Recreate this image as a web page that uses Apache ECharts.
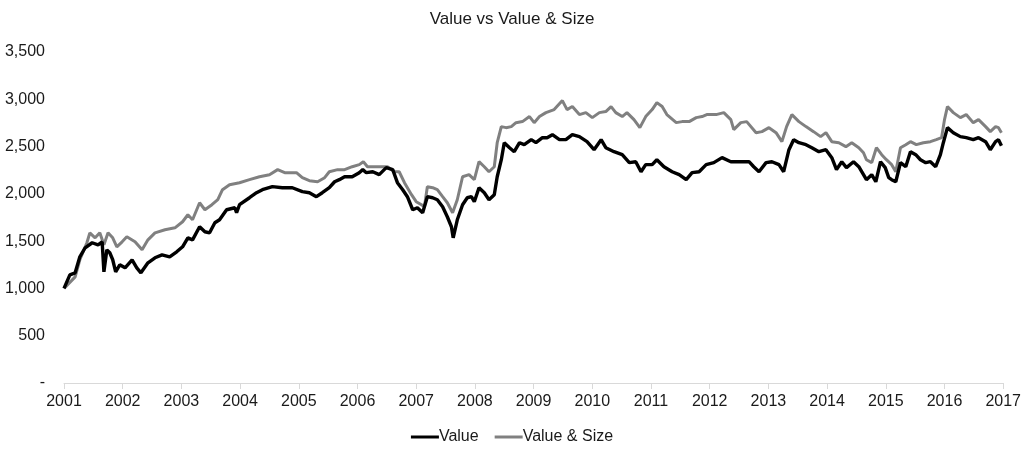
<!DOCTYPE html>
<html>
<head>
<meta charset="utf-8">
<script src="https://cdn.jsdelivr.net/npm/echarts@6/dist/echarts.min.js"></script>
<style>html,body{margin:0;padding:0;background:#fff}#c{width:1024px;height:456px}</style>
</head>
<body>
<div id="c"></div>
<script>
const titleText = "Value vs Value & Size";
const seriesNames = ["Value", "Value & Size"];
const yTicks = [0, 500, 1000, 1500, 2000, 2500, 3000, 3500];
const xYears = [2001, 2017];

// Time in decimal years
const valueDates = [2001.00,2001.10,2001.19,2001.27,2001.36,2001.48,2001.58,2001.65,2001.68,2001.73,2001.78,2001.83,2001.88,2001.95,2002.04,2002.16,2002.24,2002.31,2002.43,2002.55,2002.67,2002.80,2002.92,2003.02,2003.11,2003.19,2003.31,2003.40,2003.48,2003.57,2003.65,2003.77,2003.91,2003.94,2003.99,2004.16,2004.28,2004.38,2004.55,2004.72,2004.89,2005.06,2005.18,2005.30,2005.40,2005.52,2005.61,2005.69,2005.78,2005.91,2006.03,2006.09,2006.15,2006.26,2006.37,2006.49,2006.60,2006.68,2006.77,2006.85,2006.94,2007.02,2007.11,2007.19,2007.28,2007.36,2007.45,2007.53,2007.60,2007.63,2007.70,2007.79,2007.87,2007.94,2007.99,2008.07,2008.16,2008.24,2008.33,2008.38,2008.45,2008.50,2008.59,2008.67,2008.76,2008.84,2008.96,2009.04,2009.15,2009.23,2009.32,2009.44,2009.55,2009.66,2009.78,2009.91,2010.03,2010.15,2010.23,2010.37,2010.51,2010.63,2010.74,2010.83,2010.91,2011.02,2011.10,2011.22,2011.36,2011.48,2011.60,2011.70,2011.82,2011.94,2012.07,2012.21,2012.36,2012.50,2012.67,2012.75,2012.84,2012.96,2013.06,2013.18,2013.26,2013.35,2013.43,2013.52,2013.64,2013.74,2013.86,2013.98,2014.08,2014.16,2014.25,2014.33,2014.45,2014.54,2014.59,2014.67,2014.76,2014.83,2014.91,2014.99,2015.05,2015.10,2015.17,2015.25,2015.34,2015.42,2015.51,2015.59,2015.68,2015.76,2015.85,2015.93,2015.98,2016.05,2016.15,2016.27,2016.37,2016.49,2016.58,2016.70,2016.78,2016.87,2016.92,2016.97];
const valueLevels = [1000,1144,1165,1334,1430,1483,1461,1493,1175,1408,1377,1303,1175,1250,1218,1303,1218,1165,1271,1324,1355,1334,1387,1440,1535,1514,1652,1599,1588,1694,1726,1832,1853,1800,1885,1959,2012,2044,2076,2065,2065,2023,2012,1970,2012,2065,2128,2150,2181,2181,2224,2256,2224,2234,2203,2277,2256,2118,2044,1970,1832,1853,1800,1970,1959,1938,1864,1758,1652,1535,1726,1885,1959,1970,1917,2065,2012,1938,1991,2181,2361,2541,2488,2446,2541,2520,2573,2541,2594,2594,2626,2573,2573,2626,2605,2552,2467,2573,2488,2446,2414,2330,2340,2234,2309,2309,2361,2287,2234,2203,2150,2224,2234,2309,2330,2383,2340,2340,2340,2287,2234,2330,2340,2309,2234,2467,2573,2541,2520,2488,2446,2467,2383,2256,2340,2277,2340,2287,2234,2150,2203,2128,2340,2277,2171,2150,2128,2330,2287,2446,2414,2361,2330,2340,2287,2414,2541,2700,2647,2605,2594,2573,2594,2552,2467,2552,2573,2509];

const sizeDates = [2001.00,2001.19,2001.27,2001.39,2001.44,2001.53,2001.61,2001.68,2001.75,2001.83,2001.90,2001.99,2002.07,2002.21,2002.33,2002.43,2002.55,2002.72,2002.89,2003.02,2003.11,2003.19,2003.31,2003.40,2003.52,2003.62,2003.70,2003.82,2003.99,2004.16,2004.33,2004.50,2004.64,2004.76,2004.96,2005.06,2005.18,2005.32,2005.44,2005.52,2005.66,2005.78,2005.91,2006.03,2006.10,2006.17,2006.32,2006.51,2006.63,2006.71,2006.80,2006.92,2007.00,2007.09,2007.14,2007.19,2007.28,2007.36,2007.45,2007.53,2007.62,2007.70,2007.79,2007.90,2007.99,2008.07,2008.16,2008.24,2008.33,2008.38,2008.45,2008.53,2008.62,2008.70,2008.81,2008.93,2009.01,2009.10,2009.21,2009.35,2009.49,2009.57,2009.66,2009.78,2009.89,2010.00,2010.12,2010.23,2010.32,2010.40,2010.51,2010.59,2010.71,2010.81,2010.91,2011.02,2011.10,2011.19,2011.27,2011.43,2011.53,2011.65,2011.77,2011.87,2011.95,2012.11,2012.24,2012.36,2012.41,2012.53,2012.63,2012.79,2012.89,2013.01,2013.13,2013.23,2013.31,2013.40,2013.52,2013.64,2013.77,2013.89,2013.98,2014.08,2014.20,2014.32,2014.42,2014.54,2014.62,2014.67,2014.76,2014.84,2014.93,2015.01,2015.10,2015.17,2015.25,2015.34,2015.42,2015.52,2015.64,2015.76,2015.86,2015.95,2016.00,2016.05,2016.15,2016.27,2016.37,2016.49,2016.58,2016.70,2016.78,2016.87,2016.92,2016.97];
const sizeLevels = [1000,1122,1303,1483,1588,1535,1588,1461,1588,1535,1440,1493,1546,1493,1408,1514,1588,1620,1641,1705,1779,1726,1906,1832,1885,1938,2044,2097,2118,2150,2181,2203,2256,2224,2224,2171,2139,2128,2171,2234,2256,2256,2287,2309,2340,2287,2287,2287,2234,2234,2118,1991,1917,1885,1864,2076,2065,2044,1970,1906,1800,1938,2181,2203,2150,2340,2287,2234,2287,2541,2711,2700,2711,2753,2764,2817,2753,2817,2859,2891,2986,2891,2923,2838,2859,2806,2859,2870,2923,2859,2817,2859,2785,2700,2817,2891,2965,2923,2838,2753,2764,2764,2806,2817,2838,2838,2859,2785,2679,2753,2764,2647,2658,2700,2647,2552,2711,2838,2764,2711,2658,2605,2647,2552,2541,2499,2541,2488,2435,2361,2330,2488,2414,2361,2309,2234,2488,2520,2552,2520,2541,2552,2573,2594,2785,2923,2859,2806,2838,2753,2785,2711,2658,2711,2700,2647];

const pair = (xs, ys) => xs.map((x, i) => [x, ys[i]]);

const chart = echarts.init(document.getElementById('c'), null, {renderer: 'canvas'});
const font = '"Liberation Sans", Arial, sans-serif';
chart.setOption({
  animation: false,
  backgroundColor: '#ffffff',
  title: {
    text: titleText, left: 'center', top: 6,
    textStyle: {fontFamily: font, fontSize: 17, fontWeight: 'normal', color: '#1a1a1a'}
  },
  legend: {
    data: seriesNames, bottom: 6, left: 'center',
    itemWidth: 28, itemHeight: 3, itemGap: 16,
    icon: 'rect',
    textStyle: {fontFamily: font, fontSize: 16, color: '#1a1a1a', padding: [0,0,0,-5]}
  },
  grid: {left: 64, right: 19, top: 52, bottom: 73, containLabel: false},
  xAxis: {
    type: 'value', min: xYears[0], max: xYears[1], interval: 1,
    axisLine: {show: true, lineStyle: {color: '#d9d9d9', width: 1}},
    axisTick: {show: true, length: 6, lineStyle: {color: '#d9d9d9'}},
    splitLine: {show: false},
    axisLabel: {fontFamily: font, fontSize: 16, color: '#1a1a1a', margin: 11,
      formatter: v => String(v)}
  },
  yAxis: {
    type: 'value', min: yTicks[0], max: yTicks[yTicks.length - 1], interval: 500,
    axisLine: {show: false}, axisTick: {show: false}, splitLine: {show: false},
    axisLabel: {fontFamily: font, fontSize: 16, color: '#1a1a1a', margin: 19,
      formatter: v => v === 0 ? '-' : v.toLocaleString('en-US')}
  },
  series: [
    {name: seriesNames[0], type: 'line', data: pair(valueDates, valueLevels), showSymbol: false,
     lineStyle: {color: '#000000', width: 3.4}, itemStyle: {color: '#000000'}, z: 3},
    {name: seriesNames[1], type: 'line', data: pair(sizeDates, sizeLevels), showSymbol: false,
     lineStyle: {color: '#808080', width: 3}, itemStyle: {color: '#808080'}, z: 2}
  ]
});
</script>
</body>
</html>
